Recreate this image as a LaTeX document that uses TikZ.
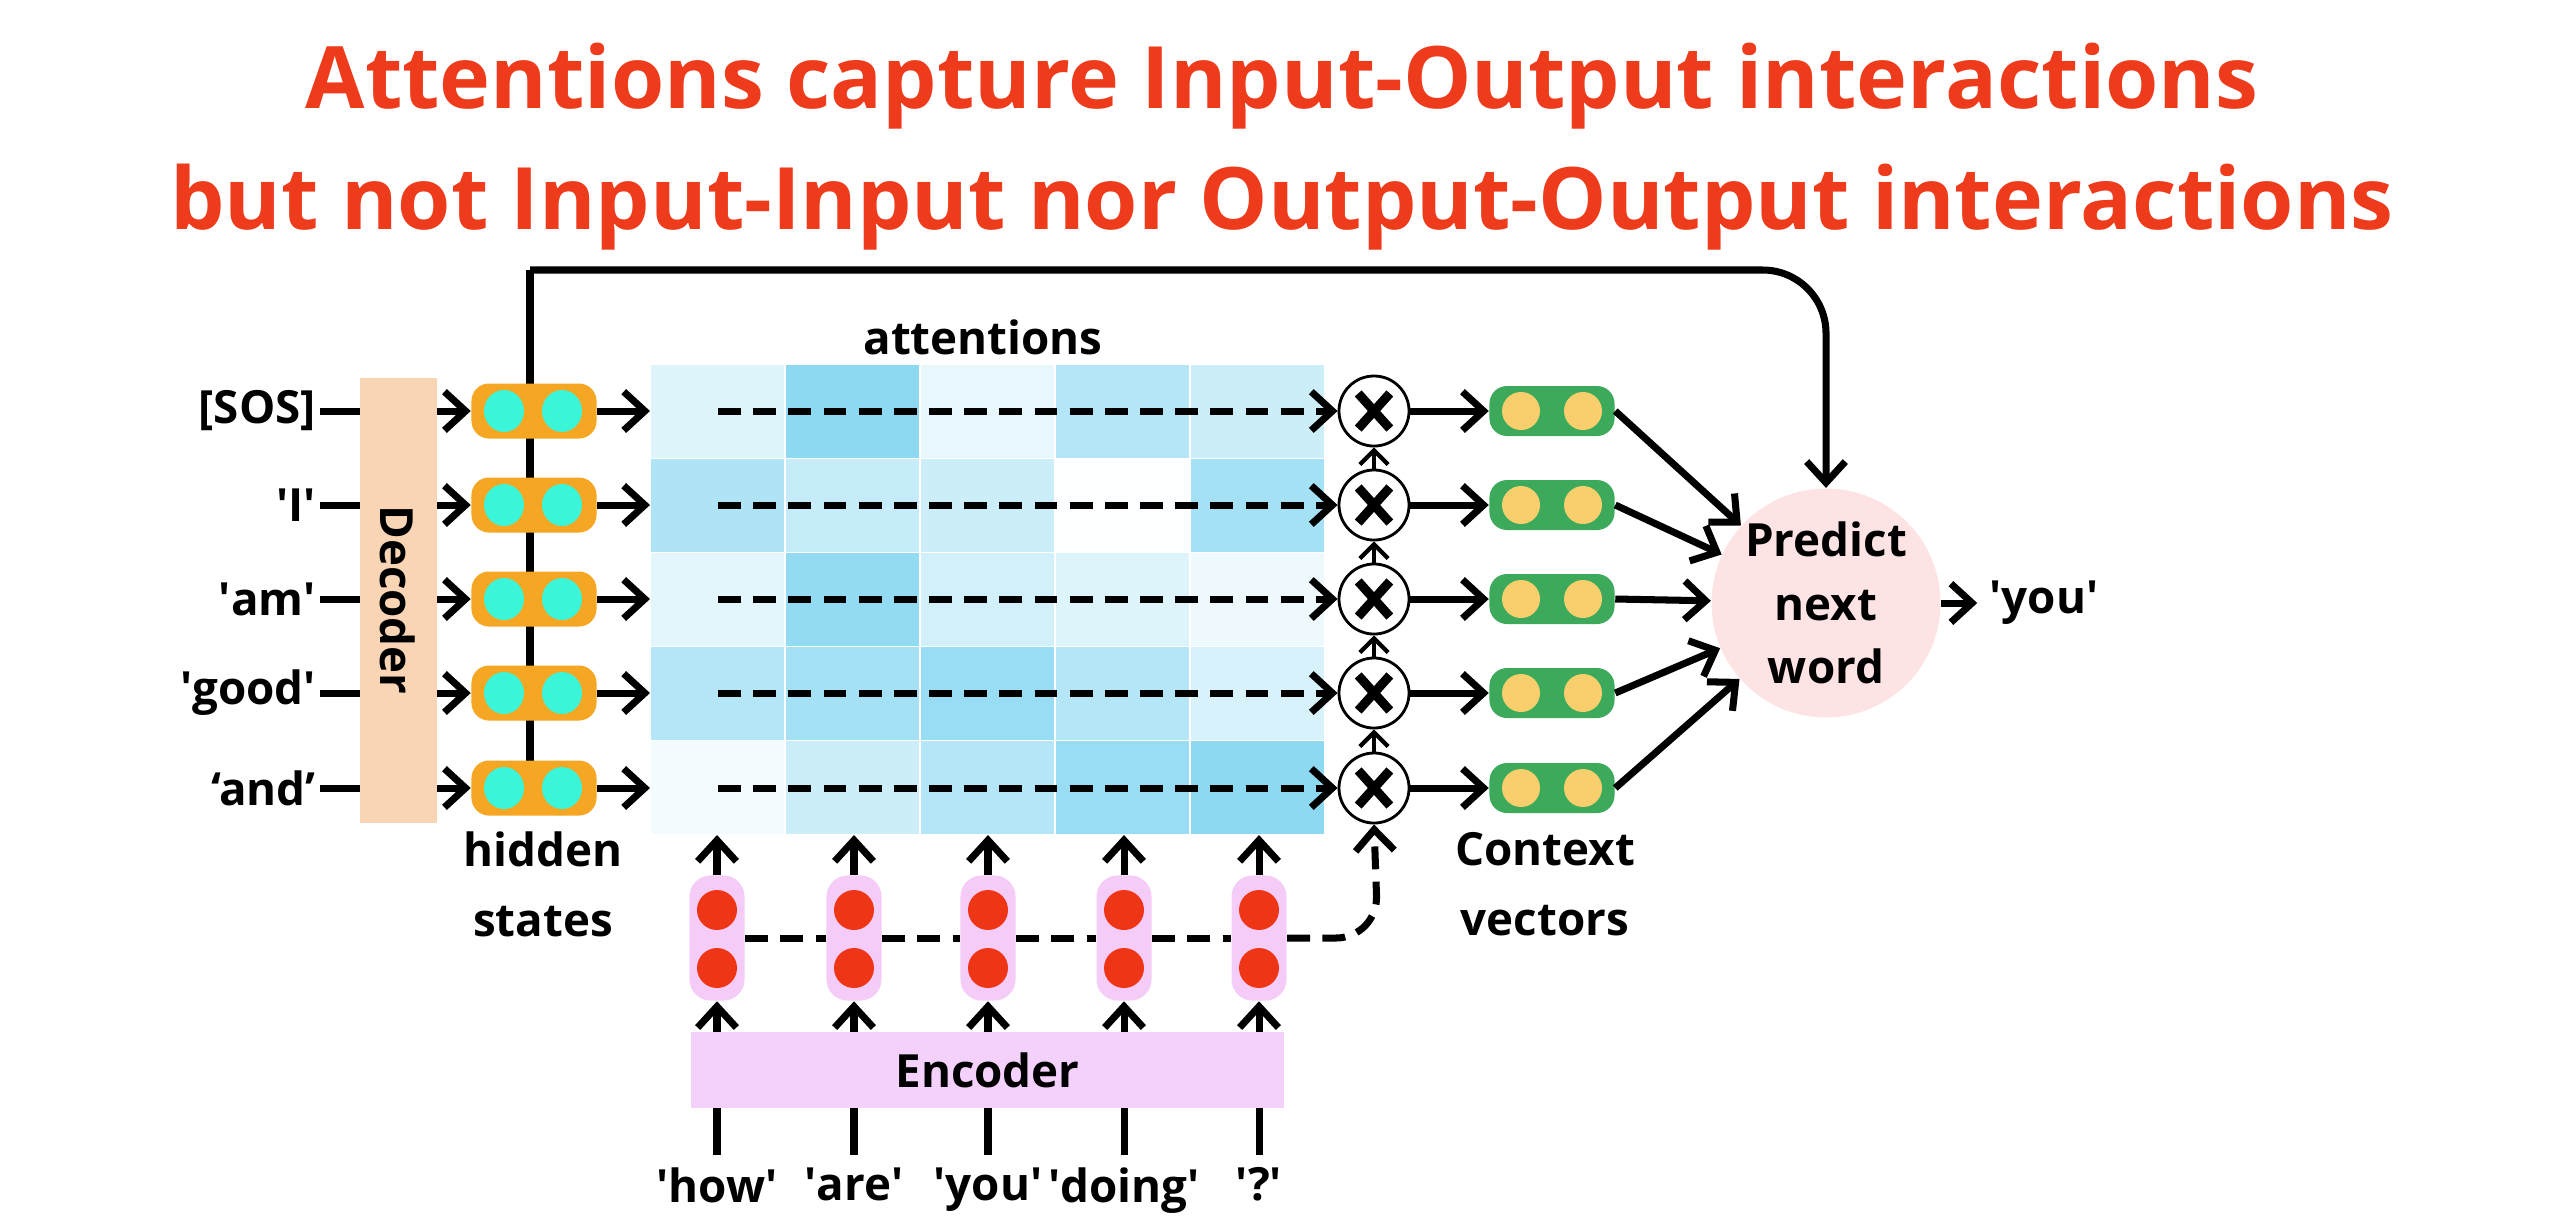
\documentclass[tikz,border=0pt]{standalone}
\usepackage{fontspec}
\setmainfont{Open Sans}[BoldFont={Open Sans Bold}]
\usetikzlibrary{arrows.meta,shapes.geometric}
\definecolor{ttl}{HTML}{EE3B1B}
\definecolor{att}{HTML}{8DD9F2}
\definecolor{hid}{HTML}{F5A623}
\definecolor{cyandot}{HTML}{3BF5D8}
\definecolor{ctx}{HTML}{3DAA5B}
\definecolor{ydot}{HTML}{F9CF6E}
\definecolor{encv}{HTML}{F4CCF7}
\definecolor{encb}{HTML}{F3D1FB}
\definecolor{decb}{HTML}{F9D5B5}
\definecolor{reddot}{HTML}{EE3516}
\definecolor{pred}{HTML}{FDE3E3}
\newcommand\q{\textquotesingle}
\begin{document}
\begin{tikzpicture}[x=0.01cm,y=-0.01cm,
  lbl/.style={font=\fontsize{13}{15}\selectfont\bfseries, text=black},
  tip/.style={-{Straight Barb[length=6pt,width=11pt,line width=2pt]}},
  arr/.style={line width=2pt,tip},
  ln/.style={line width=2pt},
  dsh/.style={line width=2pt,dash pattern=on 6.5pt off 3.5pt},
  hbox/.style={fill=hid,rounded corners=5pt,minimum width=1.25cm,minimum height=0.55cm,inner sep=0},
  cbox/.style={fill=ctx,rounded corners=5pt,minimum width=1.25cm,minimum height=0.5cm,inner sep=0},
  ebox/.style={fill=encv,rounded corners=6pt,minimum width=0.55cm,minimum height=1.25cm,inner sep=0},
  mult/.style={circle,draw=black,line width=0.8pt,fill=white,minimum size=0.7cm,inner sep=0,
    path picture={\draw[line width=2.6pt] ([shift={(-4.5pt,-5pt)}]path picture bounding box.center) -- ++(9pt,10pt);
                  \draw[line width=2.6pt] ([shift={(-4.5pt,5pt)}]path picture bounding box.center) -- ++(9pt,-10pt);}}
]
\useasboundingbox (0,0) rectangle (2564,1217);
\fill[white] (0,0) rectangle (2564,1217);
% title
\node[font=\fontsize{24.5}{28}\selectfont\bfseries,text=ttl] (t1) at (1282,86) {Attentions capture Input-Output interactions};
\node[font=\fontsize{24.5}{28}\selectfont\bfseries,text=ttl] (t2) at (1282,207) {but not Input-Input nor Output-Output interactions};
% attention grid
\foreach \i/\a/\b/\c/\d/\e in {0/30/100/20/65/45,1/70/50/45/2/80,2/25/95/40/30/15,3/65/80/90/65/35,4/10/45/65/90/100}{
  \foreach \p [count=\j from 0] in {\a,\b,\c,\d,\e} {
    \fill[att!\p!white,draw=white,line width=0.3pt] (650+135*\j,364+94.2*\i) rectangle ++(135,94.2);
  }
}
\node[lbl] (attl) at (983,337) {attentions};
% decoder
\fill[decb] (360,378) rectangle (437,823);
\node[lbl,rotate=-90] (dec) at (398,600) {Decoder};
% vertical line and top loop
\coordinate (vtop) at (530,270);
\coordinate (vbot) at (530,788);
\draw[ln] (vbot) -- (vtop);
% predict
\node[circle,fill=pred,minimum size=2.2cm,inner sep=0,align=center,lbl,font=\fontsize{13}{18}\selectfont\bfseries] (pred) at (1826,603) {Predict\\next\\word};
\draw[arr,rounded corners=18pt] (vtop) -- (1826,270) -- (pred.north);
% rows
\foreach \w/\y [count=\k] in {{[SOS]}/411,{\q I\q}/505,{\q am\q}/599,{\q good\q}/693,{‘and’}/788}{
  \node[lbl,anchor=east,inner sep=1pt] (w\k) at (320,\y) {\w};
  \draw[ln] (w\k.east) -- (360,\y);
  \node[hbox] (h\k) at (534,\y) {};
  \fill[cyandot] (504,\y) ellipse (20 and 21);
  \fill[cyandot] (562,\y) ellipse (20 and 21);
  \draw[arr] (437,\y) -- (h\k.west);
  \draw[arr] (h\k.east) -- (650,\y);
  \node[mult] (m\k) at (1374,\y) {};
  \draw[dsh,tip] (718,\y) -- (m\k.west);
  \node[cbox] (c\k) at (1552,\y) {};
  \fill[ydot] (1521,\y) circle (19);
  \fill[ydot] (1583,\y) circle (19);
  \draw[arr] (m\k.east) -- (c\k.west);
}
\foreach \a/\b in {2/1,3/2,4/3,5/4}{ \draw[line width=1.2pt,-{Straight Barb[length=4pt,width=8pt,line width=1.2pt]}] (m\a.north) -- (m\b.south); }
\foreach \k in {1,...,5}{ \draw[arr] (c\k.east) -- (pred); }
\node[lbl] (you) at (2044,603) {\q you\q};
\draw[arr] (pred.east) -- (you.west);
\node[lbl,align=center,font=\fontsize{13}{20}\selectfont\bfseries] (hs) at (543,884) {hidden\\states};
\node[lbl,align=center,font=\fontsize{13}{20}\selectfont\bfseries] (cv) at (1545,884) {Context\\vectors};
% encoder
\node[fill=encb,minimum width=5.93cm,minimum height=0.76cm,inner sep=0,lbl] (enc) at (987.5,1070) {Encoder};
\foreach \w/\x [count=\k] in {{\q how\q}/717,{\q are\q}/854,{\q you\q}/988,{\q doing\q}/1124,{\q?\q}/1259}{
  \node[ebox] (e\k) at (\x,938) {};
  \fill[reddot] (\x,910) ellipse (20 and 20);
  \fill[reddot] (\x,968) ellipse (20 and 20);
  \draw[arr] (\x,1032) -- (e\k.south);
  \draw[arr] (e\k.north) -- (\x,835);
  \node[lbl,anchor=north] (i\k) at (\x,1155) {\w};
  \draw[ln] (i\k.north) -- (\x,1108);
}
\draw[dsh] (e1.east) -- (e2.west) (e2.east) -- (e3.west) (e3.east) -- (e4.west) (e4.east) -- (e5.west);
\draw[dsh,tip,rounded corners=12pt] (e5.east) -- (1378,938) -- (m5.south);
\end{tikzpicture}
\end{document}
